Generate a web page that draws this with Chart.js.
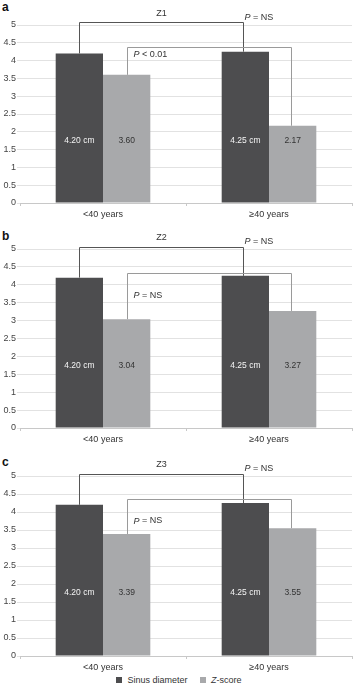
<!DOCTYPE html>
<html>
<head>
<meta charset="utf-8">
<script src="https://cdn.jsdelivr.net/npm/chart.js@4/dist/chart.umd.min.js"></script>
<style>
    body { margin: 0; background: #fff; font-family: Arial, "Liberation Sans", sans-serif; }
    #wrap { position: relative; width: 353px; height: 685px; overflow: hidden; }
    canvas { position: absolute; left: 0; }
    .tag { position: absolute; left: 2px; font-weight: bold; font-size: 12px; color: #111; }
    #legend { position: absolute; top: 675px; left: 0; width: 353px; text-align: center; font-size: 9px; color: #333; }
    #legend .sw { display: inline-block; width: 6px; height: 6px; margin: 0 5px 0 0; vertical-align: 0; }
</style>
</head>
<body>
<div id="wrap">
    <div class="tag" style="top:0px">a</div>
    <div class="tag" style="top:229px">b</div>
    <div class="tag" style="top:455px">c</div>
    <canvas id="chartA" width="353" height="220" style="top:0px"></canvas>
    <canvas id="chartB" width="353" height="220" style="top:225px"></canvas>
    <canvas id="chartC" width="353" height="228" style="top:445px"></canvas>
    <div id="legend">
        &nbsp;&nbsp;<span class="sw" style="background:#4d4d4f"></span>Sinus diameter
        &nbsp;&nbsp;&nbsp;&nbsp;<span class="sw" style="background:#a8a9ab"></span><i>Z</i>-score
    </div>
</div>
<script>
const groups = ['<40 years', '\u226540 years'];
const yTicks = [0, 0.5, 1, 1.5, 2, 2.5, 3, 3.5, 4, 4.5, 5];

// sinus diameter (cm), same for all three panels
const sinusDiameter = [4.20, 4.25];
const sinusText = ['4.20 cm', '4.25 cm'];

// Z-scores per panel
const zScoreA = [3.60, 2.17];
const zScoreB = [3.04, 3.27];
const zScoreC = [3.39, 3.55];

// bracket / annotation levels (value units) per panel
const zNames = ['Z1', 'Z2', 'Z3'];
const pLower = ['< 0.01', '= NS', '= NS'];
const darkBracket = [5.09, 5.05, 5.05];
const greyBracket = [4.38, 4.33, 4.35];
const lowerTextLevel = [4.16, 3.71, 3.75];
const labelLevel = 1.75;
const topPad = [25, 24, 31];

const DARK = '#4d4d4f';
const GREY = '#a8a9ab';
const FONT = 'Arial, "Liberation Sans", sans-serif';

function drawP(ctx, x, y, rest) {
    ctx.textAlign = 'left';
    ctx.textBaseline = 'middle';
    ctx.font = `italic 9px ${FONT}`;
    ctx.fillText('P', x, y);
    const w = ctx.measureText('P').width;
    ctx.font = `9px ${FONT}`;
    ctx.fillText(` ${rest}`, x + w, y);
}

function bracketPlugin(idx) {
    return {
        id: `brackets${idx}`,
        afterDatasetsDraw(chart) {
            const ctx = chart.ctx;
            const yS = chart.scales.y;
            const dark = chart.getDatasetMeta(0).data;
            const grey = chart.getDatasetMeta(1).data;
            const sData = chart.data.datasets[0].data;
            const zData = chart.data.datasets[1].data;

            ctx.save();
            // value labels inside bars
            ctx.font = `8.5px ${FONT}`;
            ctx.textAlign = 'center';
            ctx.textBaseline = 'middle';
            const ly = yS.getPixelForValue(labelLevel);
            dark.forEach((bar, i) => {
                ctx.fillStyle = '#f4f4f4';
                ctx.fillText(sinusText[i], bar.x, ly);
            });
            grey.forEach((bar, i) => {
                ctx.fillStyle = '#333333';
                ctx.fillText(zData[i].toFixed(2), bar.x, ly);
            });

            // dark bracket
            const dTop = yS.getPixelForValue(darkBracket[idx]);
            const x1 = Math.round(dark[0].x) + 0.5;
            const x2 = Math.round(dark[1].x) - 1.5;
            ctx.strokeStyle = '#555555';
            ctx.lineWidth = 1;
            ctx.beginPath();
            ctx.moveTo(x1, yS.getPixelForValue(sData[0]));
            ctx.lineTo(x1, Math.round(dTop) + 0.5);
            ctx.lineTo(x2, Math.round(dTop) + 0.5);
            ctx.lineTo(x2, yS.getPixelForValue(sData[1]));
            ctx.stroke();

            // grey bracket
            const gTop = yS.getPixelForValue(greyBracket[idx]);
            const g1 = Math.round(grey[0].x) + 0.5;
            const g2 = Math.round(grey[1].x) - 1.5;
            ctx.strokeStyle = '#9a9a9a';
            ctx.beginPath();
            ctx.moveTo(g1, yS.getPixelForValue(zData[0]));
            ctx.lineTo(g1, Math.round(gTop) + 0.5);
            ctx.lineTo(g2, Math.round(gTop) + 0.5);
            ctx.lineTo(g2, yS.getPixelForValue(zData[1]));
            ctx.stroke();

            // texts
            ctx.fillStyle = '#333333';
            ctx.font = `9px ${FONT}`;
            ctx.textAlign = 'center';
            ctx.fillText(zNames[idx], (x1 + x2) / 2, yS.getPixelForValue(5.32));
            drawP(ctx, x2 + 1, yS.getPixelForValue(5.21), '= NS');
            drawP(ctx, g1 + 6, yS.getPixelForValue(lowerTextLevel[idx]), pLower[idx]);
            ctx.restore();
        },
    };
}

function makeChart(canvasId, zValues, idx) {
    return new Chart(document.getElementById(canvasId), {
        type: 'bar',
        data: {
            labels: groups,
            datasets: [
                {
                    label: 'Sinus diameter',
                    data: sinusDiameter,
                    backgroundColor: DARK,
                    borderWidth: 0,
                },
                {
                    label: 'Z-score',
                    data: zValues,
                    backgroundColor: GREY,
                    borderWidth: 0,
                },
            ],
        },
        options: {
            responsive: false,
            animation: false,
            devicePixelRatio: 1,
            categoryPercentage: 0.57,
            barPercentage: 1,
            layout: { padding: { top: topPad[idx], right: 1, left: 0, bottom: 0 } },
            plugins: {
                legend: { display: false },
                tooltip: { enabled: false },
            },
            scales: {
                y: {
                    min: 0,
                    max: 5,
                    afterBuildTicks(scale) {
                        scale.ticks = yTicks.map((v) => ({ value: v }));
                    },
                    afterFit(scale) {
                        scale.width = 20;
                    },
                    ticks: {
                        color: '#444',
                        padding: 1,
                        font: { size: 9, family: FONT },
                        callback(v) {
                            return String(v);
                        },
                    },
                    grid: { color: '#e2e2e2', tickLength: 3, drawTicks: true },
                    border: { display: false },
                },
                x: {
                    afterFit(scale) {
                        scale.height = 17;
                    },
                    ticks: {
                        color: '#333',
                        padding: 3,
                        font: { size: 9, family: FONT },
                    },
                    grid: {
                        drawOnChartArea: false,
                        drawTicks: true,
                        tickLength: 3,
                        color: '#c8c8c8',
                    },
                    border: { display: true, color: '#c8c8c8' },
                },
            },
        },
        plugins: [bracketPlugin(idx)],
    });
}

makeChart('chartA', zScoreA, 0);
makeChart('chartB', zScoreB, 1);
makeChart('chartC', zScoreC, 2);
</script>
</body>
</html>
